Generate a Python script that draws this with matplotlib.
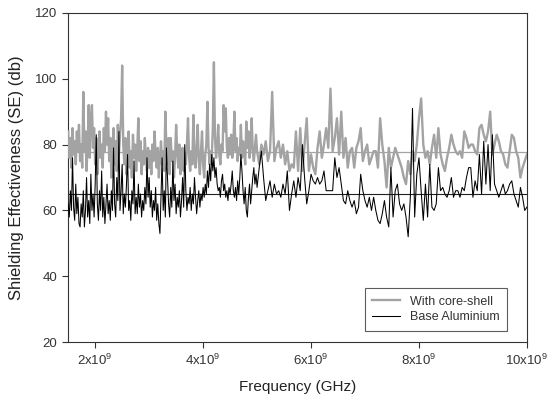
import numpy as np
import matplotlib
matplotlib.use("Agg")
import matplotlib.pyplot as plt

plt.rcParams['font.family'] = ['Liberation Sans', 'DejaVu Sans']
plt.rcParams['mathtext.fontset'] = 'custom'
plt.rcParams['mathtext.rm'] = 'Liberation Sans'

# ---- data, frequency in GHz ----
# With core-shell: segments (start GHz, end GHz, values)
core_shell_segments = [
    (1.5, 2.0, [84, 76, 82, 73, 85, 77, 81, 74, 84, 78, 86, 75, 80, 73, 96, 78, 84, 72, 80, 92, 76, 88, 92, 79, 85]),
    (2.0, 2.5, [74, 82, 71, 78, 84, 76, 80, 73, 85, 78, 90, 80, 88, 75, 82, 70, 79, 85, 74, 81, 72, 86, 77, 83, 88]),
    (2.5, 3.0, [104, 80, 74, 82, 71, 79, 84, 73, 78, 70, 83, 76, 80, 72, 79, 88, 75, 81, 71, 78, 74, 82, 76, 72, 79]),
    (3.0, 3.5, [73, 78, 71, 80, 75, 84, 77, 73, 79, 70, 76, 81, 74, 78, 72, 90, 79, 74, 82, 71, 82, 75, 78, 70, 76]),
    (3.5, 4.0, [86, 78, 73, 80, 71, 76, 79, 72, 77, 74, 80, 88, 76, 72, 78, 74, 89, 77, 73, 79, 86, 75, 71, 78, 84]),
    (4.0, 4.5, [74, 70, 77, 80, 93, 79, 74, 78, 76, 85, 105, 82, 76, 80, 86, 77, 74, 80, 78, 92, 84, 91, 79, 76, 82]),
    (4.5, 5.0, [77, 83, 76, 80, 90, 78, 82, 75, 79, 77, 86, 76, 81, 78, 74, 87, 79, 84, 76, 80, 88, 78, 75, 79, 83]),
    (5.0, 6.0, [78, 74, 80, 77, 81, 75, 78, 96, 75, 79, 81, 76, 80, 74, 78, 72, 74, 73, 84, 72, 85, 72, 80, 88, 72]),
    (6.0, 7.0, [77, 73, 71, 79, 84, 76, 80, 85, 79, 97, 78, 82, 88, 77, 90, 76, 82, 73, 78, 79, 73, 79, 81, 85, 75]),
    (7.0, 8.0, [78, 80, 74, 76, 78, 78, 73, 88, 80, 75, 67, 79, 73, 76, 79, 77, 75, 73, 70, 68, 75, 71, 78, 75, 80]),
    (8.0, 9.0, [88, 94, 80, 76, 78, 74, 79, 83, 76, 85, 77, 74, 72, 76, 79, 83, 80, 78, 77, 78, 76, 84, 82, 79, 80]),
    (9.0, 10.0, [80, 78, 77, 85, 86, 83, 81, 84, 90, 77, 80, 83, 81, 78, 77, 74, 73, 78, 83, 82, 78, 76, 70, 73, 75, 77]),
]

# Base Aluminium
base_al_segments = [
    (1.5, 2.0, [62, 58, 66, 60, 76, 61, 57, 68, 59, 64, 56, 55, 62, 58, 66, 55, 60, 70, 58, 63, 56, 71, 60, 65, 58]),
    (2.0, 2.5, [68, 83, 62, 57, 66, 60, 72, 58, 64, 56, 62, 68, 59, 63, 57, 66, 60, 79, 62, 58, 70, 63, 84, 60, 66]),
    (2.5, 3.0, [74, 59, 65, 61, 68, 77, 60, 63, 57, 66, 62, 75, 59, 64, 59, 68, 61, 65, 58, 63, 60, 67, 62, 76, 64]),
    (3.0, 3.5, [70, 61, 66, 58, 63, 60, 67, 57, 62, 56, 53, 64, 76, 60, 66, 58, 79, 70, 62, 58, 67, 61, 75, 63, 68]),
    (3.5, 4.0, [59, 64, 61, 66, 58, 63, 70, 61, 80, 66, 60, 64, 62, 67, 60, 65, 62, 70, 64, 59, 63, 66, 61, 65, 63]),
    (4.0, 4.5, [67, 64, 68, 65, 72, 67, 74, 69, 77, 72, 76, 70, 73, 68, 66, 67, 64, 69, 71, 66, 68, 64, 66, 63, 67]),
    (4.5, 5.0, [65, 68, 72, 66, 64, 67, 63, 69, 65, 70, 77, 72, 66, 62, 67, 60, 58, 64, 68, 62, 66, 70, 73, 68, 71]),
    (5.0, 6.0, [67, 73, 78, 70, 63, 66, 69, 64, 68, 65, 66, 64, 68, 65, 72, 60, 65, 69, 64, 70, 66, 80, 70, 62, 66]),
    (6.0, 7.0, [71, 69, 68, 70, 68, 69, 72, 66, 66, 66, 66, 76, 70, 73, 68, 63, 62, 66, 63, 61, 63, 59, 61, 71, 66]),
    (7.0, 8.0, [63, 61, 64, 60, 64, 60, 57, 56, 59, 63, 58, 55, 73, 58, 66, 68, 62, 60, 62, 58, 52, 64, 91, 58, 71]),
    (8.0, 9.0, [76, 66, 57, 68, 58, 74, 61, 60, 62, 73, 66, 67, 65, 64, 66, 70, 64, 66, 66, 64, 67, 66, 70, 73, 73]),
    (9.0, 10.0, [64, 69, 66, 77, 65, 81, 68, 80, 66, 83, 68, 66, 64, 66, 68, 65, 66, 68, 69, 65, 63, 61, 67, 64, 60, 61]),
]

core_shell_mean = 77.6
base_al_mean = 64.9

x_ticks = [2, 4, 6, 8, 10]
x_tick_labels = [r'$\mathregular{2x10^9}$', r'$\mathregular{4x10^9}$', r'$\mathregular{6x10^9}$',
                 r'$\mathregular{8x10^9}$', r'$\mathregular{10x10^9}$']
y_ticks = [20, 40, 60, 80, 100, 120]


def build(segments):
    xs, ys = [], []
    for i, (a, b, vals) in enumerate(segments):
        last = (i == len(segments) - 1)
        xs.append(np.linspace(a, b, len(vals), endpoint=last))
        ys.append(np.asarray(vals, dtype=float))
    return np.concatenate(xs), np.concatenate(ys)


f_cs, se_cs = build(core_shell_segments)
f_al, se_al = build(base_al_segments)

fig = plt.figure(figsize=(5.5, 4.03), dpi=100)
ax = fig.add_axes([0.124, 0.151, 0.834, 0.817])

gray = '#a3a3a3'
ax.plot(f_cs, se_cs, color=gray, lw=1.7, label='With core-shell', zorder=3)
ax.plot(f_al, se_al, color='black', lw=0.75, label='Base Aluminium', zorder=4)
ax.axhline(core_shell_mean, color=gray, lw=0.9, zorder=2)
ax.axhline(base_al_mean, color='#222222', lw=0.8, zorder=2)

ax.set_xlim(1.5, 10)
ax.set_ylim(20, 120)
ax.set_xticks(x_ticks)
ax.set_xticklabels(x_tick_labels)
ax.set_yticks(y_ticks)
ax.tick_params(direction='out', length=4, width=0.8, colors='#333333', labelsize=9.5, pad=4)
for s in ax.spines.values():
    s.set_color('#333333')
    s.set_linewidth(0.8)

ax.set_xlabel('Frequency (GHz)', fontsize=11, color='#222222', labelpad=8)
ax.set_ylabel('Shielding Effectiveness (SE) (db)', fontsize=12, color='#222222', labelpad=8)

leg = ax.legend(loc='lower right', bbox_to_anchor=(0.97, 0.015), fontsize=9, frameon=True,
                fancybox=False, edgecolor='#333333', handlelength=2.2, borderpad=0.6,
                labelspacing=0.3)
leg.get_frame().set_linewidth(0.8)
for t in leg.get_texts():
    t.set_color('#333333')

fig.savefig('out.png', dpi=100)
